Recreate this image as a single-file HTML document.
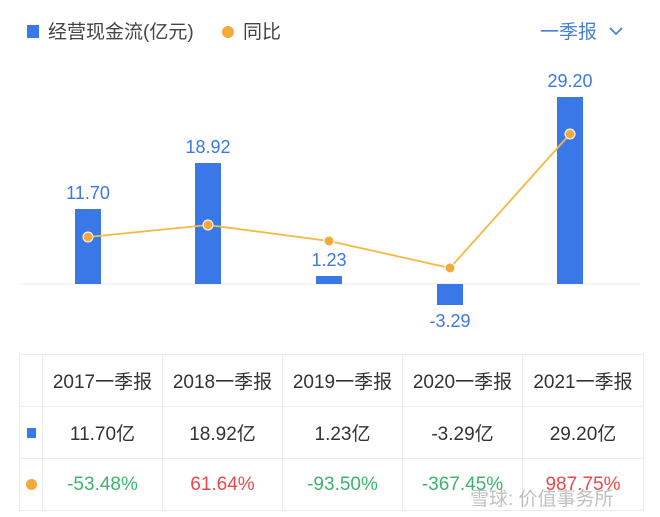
<!DOCTYPE html>
<html><head><meta charset="utf-8"><style>
body{margin:0;width:660px;height:517px;background:#fff;overflow:hidden;font-family:"Liberation Sans","Noto Sans CJK SC",sans-serif;}
.t{position:absolute;}
table{position:absolute;left:19px;top:354px;border-collapse:collapse;}
td{border:1px solid #ececec;height:51px;text-align:center;font-size:19px;color:#333;padding:0;}
</style></head><body>
<svg width="660" height="350" style="position:absolute;left:0;top:0">
<rect x="27" y="25" width="12" height="13" fill="#3b78e7"/>
<text x="48" y="38" font-size="19" fill="#444" font-family="Liberation Sans,Noto Sans CJK SC,sans-serif">经营现金流(亿元)</text>
<circle cx="228" cy="32" r="6" fill="#f5a93a"/>
<text x="243" y="38" font-size="19" fill="#444" font-family="Liberation Sans,Noto Sans CJK SC,sans-serif">同比</text>
<text x="540" y="38" font-size="19" fill="#4a7fd6" font-family="Liberation Sans,Noto Sans CJK SC,sans-serif">一季报</text>
<polyline points="610,28 616,34 622,28" fill="none" stroke="#4a7fd6" stroke-width="1.8"/>
<line x1="20" y1="284" x2="640" y2="284" stroke="#e8e8e8"/>
<g fill="#3b78e7">
<rect x="75" y="209" width="26" height="75"/>
<rect x="195" y="163" width="26" height="121"/>
<rect x="316" y="276" width="26" height="8"/>
<rect x="437" y="284" width="26" height="21"/>
<rect x="557" y="97" width="26" height="187"/>
</g>
<g fill="#3b78e7" font-size="18" text-anchor="middle" font-family="Liberation Sans,sans-serif">
<text x="88" y="199">11.70</text><text x="208" y="153">18.92</text><text x="329" y="266">1.23</text><text x="450" y="327">-3.29</text><text x="570" y="87">29.20</text>
</g>
<polyline points="88,237 208,225 329,241 450,268 570,134" fill="none" stroke="#f5b942" stroke-width="1.8"/>
<g fill="#f5a93a" stroke="#fff" stroke-width="1"><circle cx="88" cy="237" r="5"/><circle cx="208" cy="225" r="5"/><circle cx="329" cy="241" r="5"/><circle cx="450" cy="268" r="5"/><circle cx="570" cy="134" r="5"/></g>
</svg>
<table>
<tr><td style="width:22px"></td><td style="width:119px">2017一季报</td><td style="width:119px">2018一季报</td><td style="width:119px">2019一季报</td><td style="width:119px">2020一季报</td><td style="width:120px">2021一季报</td></tr>
<tr><td><span style="display:inline-block;width:9px;height:10px;background:#3b78e7"></span></td><td>11.70亿</td><td>18.92亿</td><td>1.23亿</td><td>-3.29亿</td><td>29.20亿</td></tr>
<tr><td><span style="display:inline-block;width:11px;height:11px;border-radius:50%;background:#f5a93a"></span></td><td style="color:#3cb46e">-53.48%</td><td style="color:#e84a4a">61.64%</td><td style="color:#3cb46e">-93.50%</td><td style="color:#3cb46e">-367.45%</td><td style="color:#e84a4a">987.75%</td></tr>
</table>
<div class="t" style="left:470px;top:484px;font-size:19px;color:rgba(150,150,150,0.6)">雪球: 价值事务所</div>
</body></html>
